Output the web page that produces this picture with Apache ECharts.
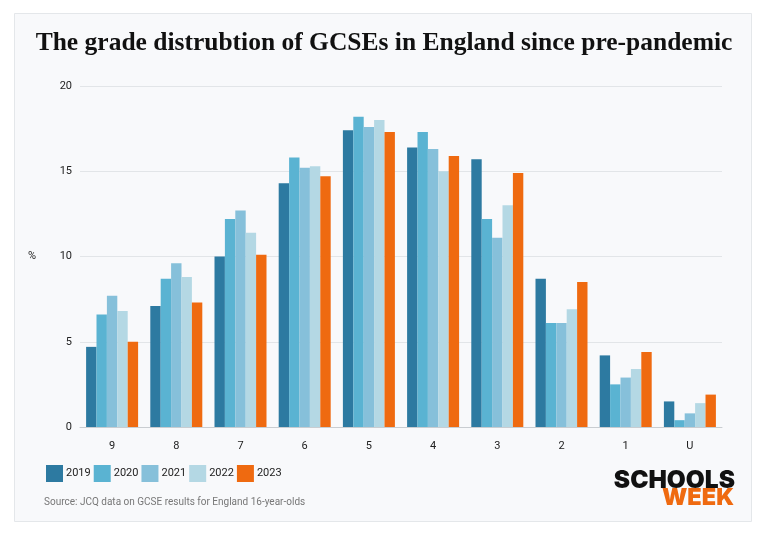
<!DOCTYPE html>
<html>
<head>
<meta charset="utf-8">
<script src="https://cdn.jsdelivr.net/npm/echarts@6/dist/echarts.min.js"></script>
<style>
html,body{margin:0;padding:0;background:#fff;}
#c{width:768px;height:538px;}
</style>
</head>
<body>
<div id="c"></div>
<script>
const grades = ['9','8','7','6','5','4','3','2','1','U'];
const years = ['2019','2020','2021','2022','2023'];
const v2019 = [4.7, 7.1, 10.0, 14.3, 17.4, 16.4, 15.7, 8.7, 4.2, 1.5];
const v2020 = [6.6, 8.7, 12.2, 15.8, 18.2, 17.3, 12.2, 6.1, 2.5, 0.4];
const v2021 = [7.7, 9.6, 12.7, 15.2, 17.6, 16.3, 11.1, 6.1, 2.9, 0.8];
const v2022 = [6.8, 8.8, 11.4, 15.3, 18.0, 15.0, 13.0, 6.9, 3.4, 1.4];
const v2023 = [5.0, 7.3, 10.1, 14.7, 17.3, 15.9, 14.9, 8.5, 4.4, 1.9];
const yTicks = [0, 5, 10, 15, 20];
const colors = ['#2d7aa1', '#5ab3d2', '#86c0da', '#b4d8e4', '#ef6a10'];
const seriesValues = [v2019, v2020, v2021, v2022, v2023];

const chart = echarts.init(document.getElementById('c'));
chart.setOption({
  backgroundColor: '#ffffff',
  animation: false,
  color: colors,
  title: {
    text: 'The grade distrubtion of GCSEs in England since pre-pandemic',
    left: 'center',
    top: 25,
    textStyle: {fontFamily: 'Liberation Serif', fontWeight: 'bold', fontSize: 25.5, color: '#111'}
  },
  legend: {
    left: 46, top: 465, padding: 0,
    itemWidth: 17, itemHeight: 17, itemGap: 3,
    icon: 'rect',
    textStyle: {fontFamily: 'Roboto', fontSize: 11, color: '#222', padding: [0,0,0,-2]},
    data: years
  },
  grid: {left: 80, right: 46, top: 86, bottom: 111, containLabel: false},
  xAxis: {
    type: 'category',
    data: grades,
    axisLine: {lineStyle: {color: '#c9cdd1', width: 1}},
    axisTick: {inside: true, length: 6, lineStyle: {color: '#444'}},
    axisLabel: {fontFamily: 'Roboto', fontSize: 11, color: '#222', margin: 14}
  },
  yAxis: {
    type: 'value',
    min: yTicks[0], max: yTicks[yTicks.length - 1], interval: 5,
    axisLine: {show: false},
    axisTick: {show: false},
    axisLabel: {fontFamily: 'Roboto', fontSize: 11, color: '#222', margin: 8},
    splitLine: {lineStyle: {color: '#e2e5e8'}}
  },
  graphic: [
    {type: 'rect', z: -10, shape: {x: 14.5, y: 13.5, width: 737, height: 508},
     style: {fill: '#f8f9fb', stroke: '#e4e7ea', lineWidth: 1}},
    {type: 'text', x: 28, y: 251, style: {text: '%', fontFamily: 'Roboto', fontSize: 11, fill: '#222'}},
    {type: 'text', x: 44, y: 497, style: {text: 'Source: JCQ data on GCSE results for England 16-year-olds', fontFamily: 'Roboto', fontSize: 10, fill: '#777'}},
    {type: 'text', x: 735, y: 468, style: {text: 'SCHOOLS', align: 'right', fontFamily: 'Inter', fontWeight: 900, fontSize: 24.5, fill: '#111'}},
    {type: 'text', x: 734, y: 486, style: {text: 'WEEK', align: 'right', fontFamily: 'Inter', fontWeight: 900, fontSize: 23.5, fill: '#ef6a10'}}
  ],
  series: years.map((y, i) => ({
    name: y,
    type: 'bar',
    data: seriesValues[i],
    barGap: '0%',
    barCategoryGap: '19%'
  }))
});
</script>
</body>
</html>
